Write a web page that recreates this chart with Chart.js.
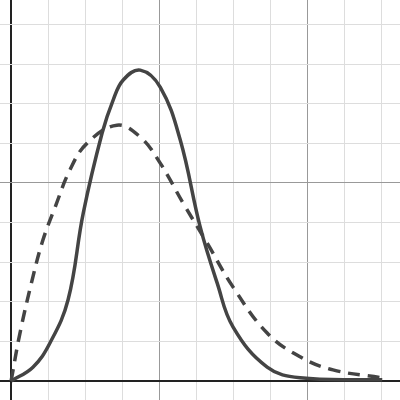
<!DOCTYPE html>
<html>
<head>
<meta charset="utf-8">
<script src="https://cdn.jsdelivr.net/npm/chart.js@4"></script>
<style>
  html, body { margin: 0; padding: 0; background: #fff; }
  #wrap { width: 400px; height: 400px; }
</style>
</head>
<body>
<div id="wrap"><canvas id="c"></canvas></div>
<script>
// curve points (x, y in grid units)
const solidX = [0, 0.59, 1.05, 1.54, 1.95, 2.46, 2.76, 3.03, 3.49, 4.03, 4.57, 5.11, 5.57, 6.0, 6.92, 7.81, 10.03];
const solidY = [0, 0.35, 0.96, 2.05, 4.24, 6.26, 7.1, 7.6, 7.85, 7.42, 6.09, 3.89, 2.47, 1.36, 0.35, 0.08, 0.03];
const dashX = [0, 0.24, 0.59, 0.86, 1.19, 1.59, 2.05, 2.86, 3.49, 4.03, 4.65, 5.3, 6.0, 6.92, 7.81, 8.7, 10.03];
const dashY = [0, 1.21, 2.63, 3.56, 4.39, 5.33, 6.0, 6.46, 6.16, 5.5, 4.49, 3.48, 2.37, 1.21, 0.61, 0.28, 0.08];
const xTicks = [0, 1, 2, 3, 4, 5, 6, 7, 8, 9, 10];
const yTicks = [0, 1, 2, 3, 4, 5, 6, 7, 8, 9];

const xMajor = 4, yMajor = 5;

function pts(xs, ys) { return xs.map((x, i) => ({ x: x, y: ys[i] })); }

function gridColor(major) {
  return ctx => {
    const v = ctx.tick.value;
    if (v === 0) return '#222';
    return v % major === 0 ? '#999' : '#ddd';
  };
}
function gridWidth(ctx) { return ctx.tick.value === 0 ? 2 : 1; }

new Chart(document.getElementById('c'), {
  type: 'scatter',
  data: {
    datasets: [
      { data: pts(solidX, solidY), showLine: true, borderColor: '#444', borderWidth: 3.5,
        pointRadius: 0, tension: 0.4 },
      { data: pts(dashX, dashY), showLine: true, borderColor: '#444', borderWidth: 3.5,
        borderDash: [12, 8], pointRadius: 0, tension: 0.4 }
    ]
  },
  options: {
    responsive: true,
    maintainAspectRatio: false,
    animation: false,
    layout: { padding: 0 },
    plugins: { legend: { display: false }, tooltip: { enabled: false } },
    scales: {
      x: {
        type: 'linear', min: -0.3, max: 10.51,
        afterBuildTicks: s => { s.ticks = xTicks.map(v => ({ value: v })); },
        ticks: { display: false },
        border: { display: false },
        grid: { color: gridColor(xMajor), lineWidth: gridWidth, drawTicks: false }
      },
      y: {
        type: 'linear', min: -0.48, max: 9.62,
        afterBuildTicks: s => { s.ticks = yTicks.map(v => ({ value: v })); },
        ticks: { display: false },
        border: { display: false },
        grid: { color: gridColor(yMajor), lineWidth: gridWidth, drawTicks: false }
      }
    }
  }
});
</script>
</body>
</html>
